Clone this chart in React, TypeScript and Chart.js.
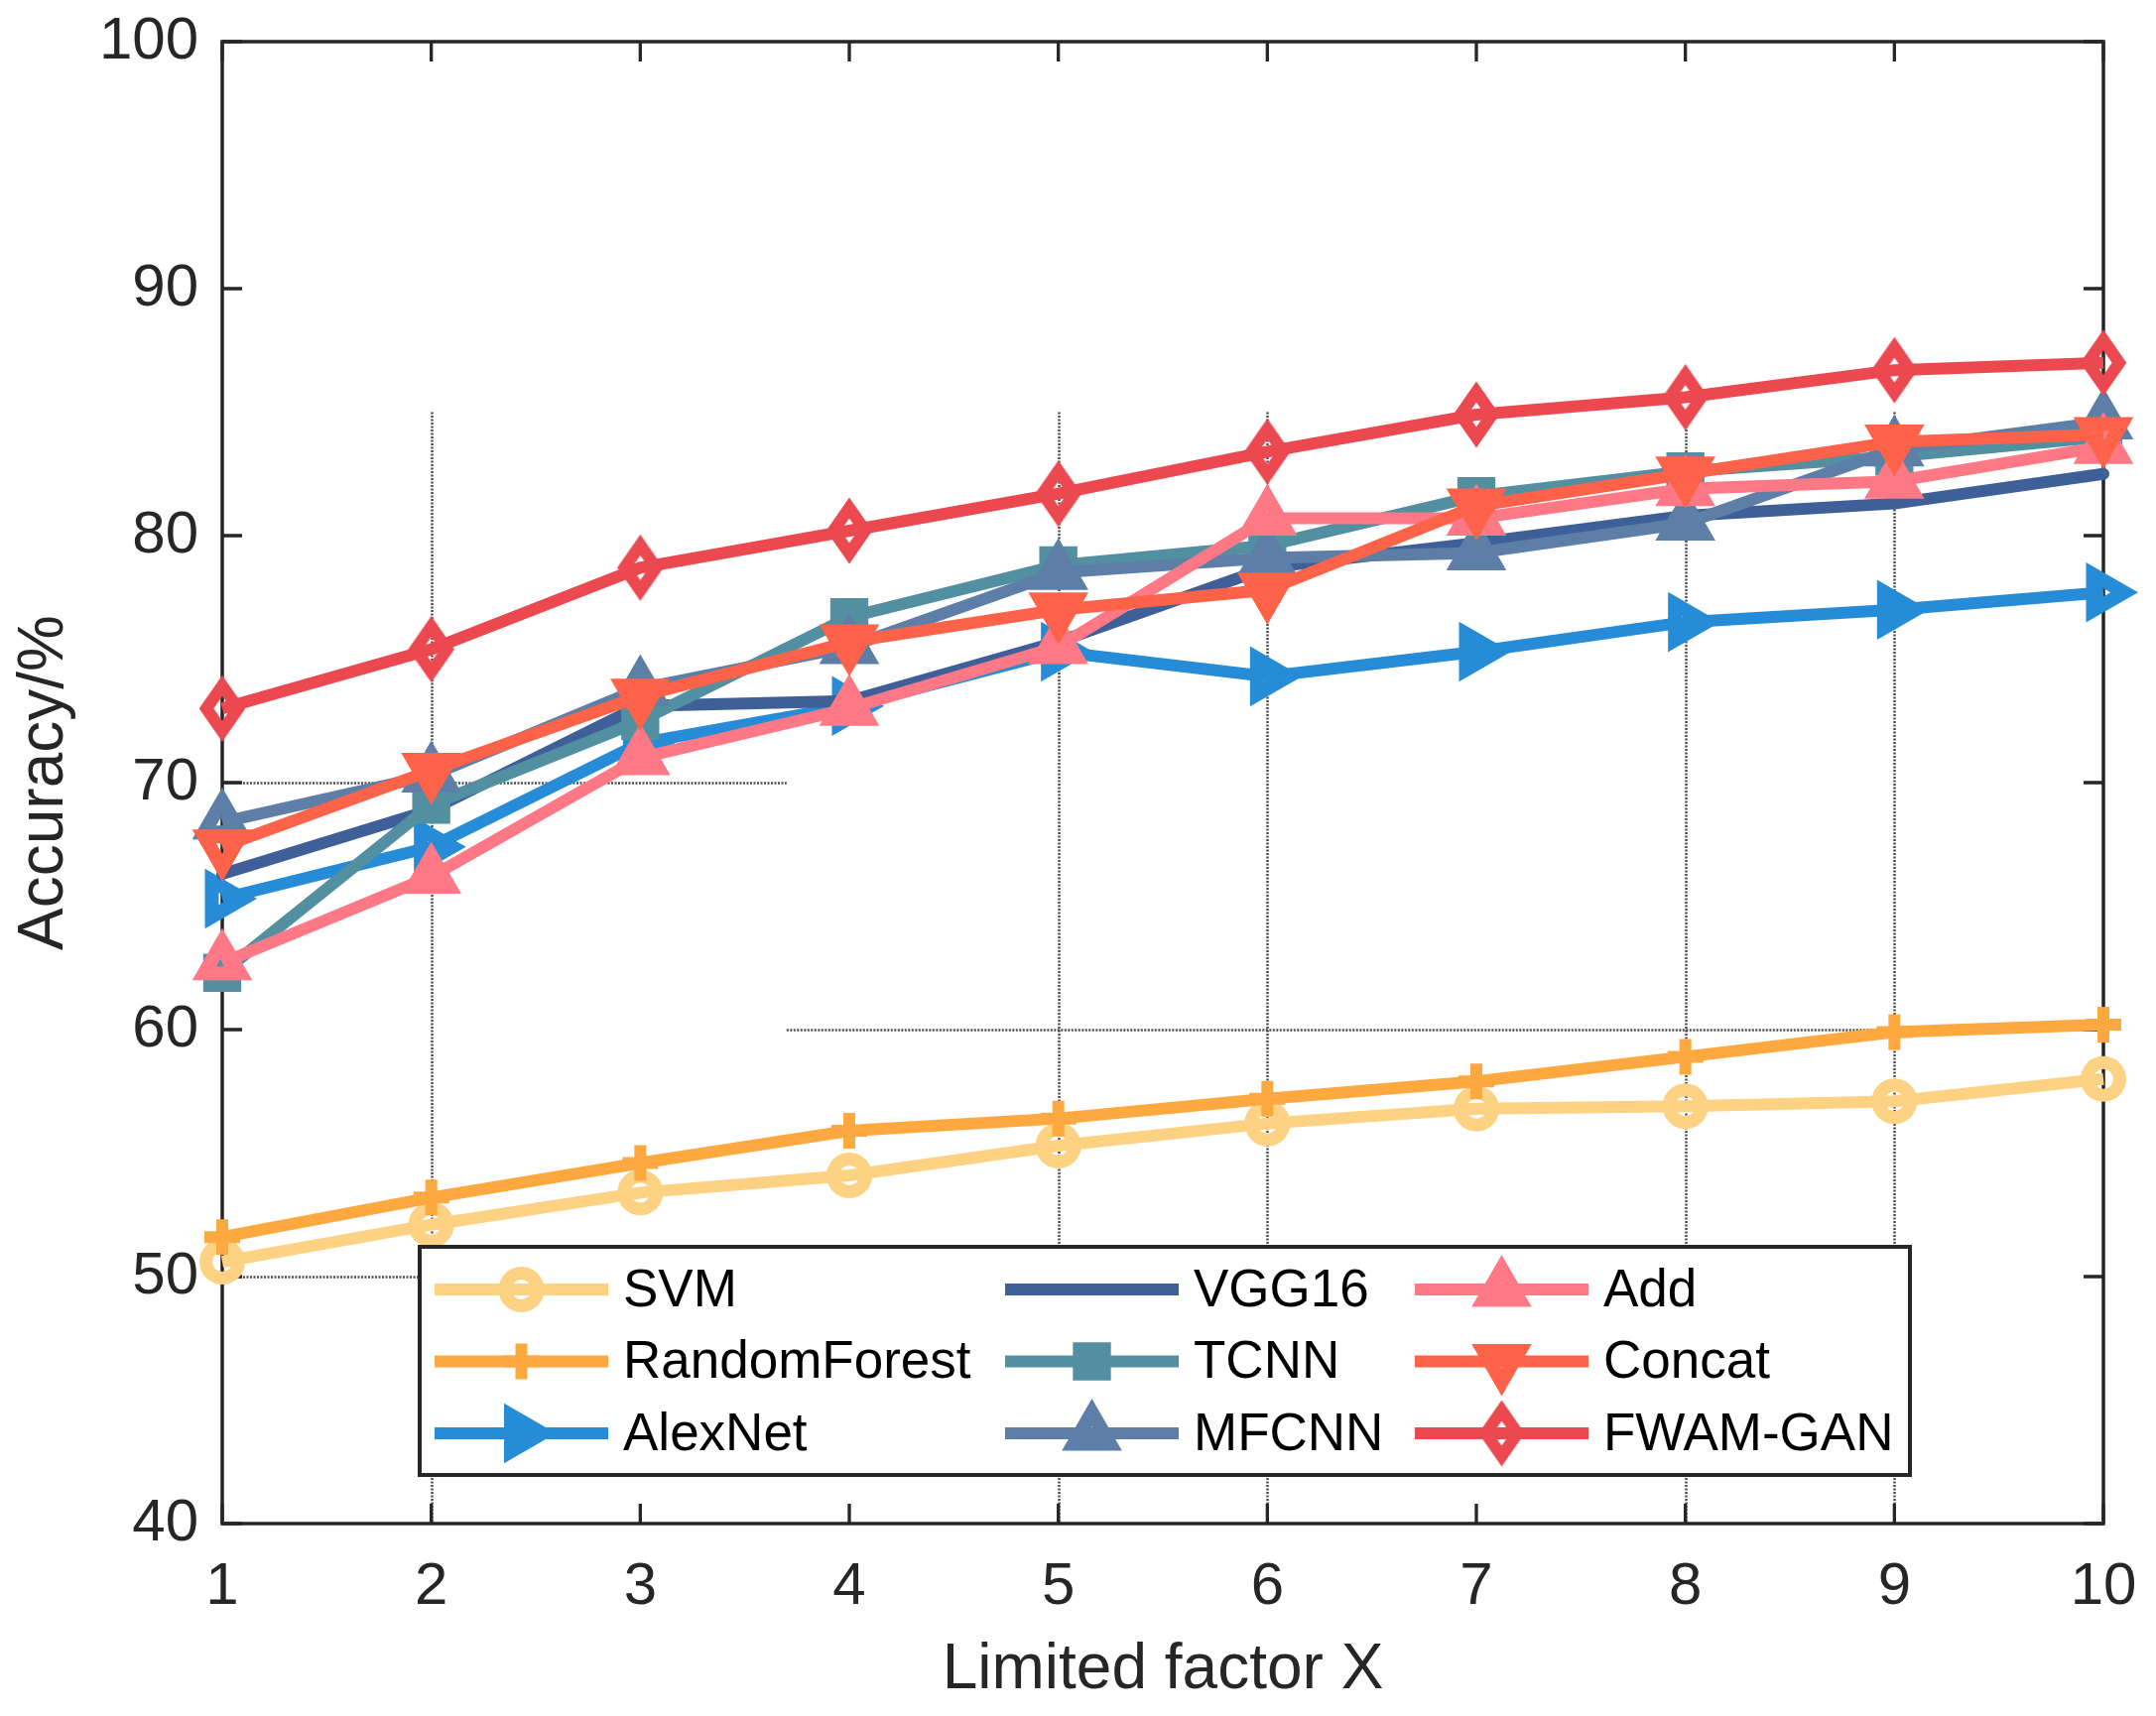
import { useEffect, useRef } from "react"
import { Chart, registerables } from "chart.js"
import { drawPoint } from "chart.js/helpers"

Chart.register(...registerables)

// x positions (limited factor X)
const xValues = [1, 2, 3, 4, 5, 6, 7, 8, 9, 10]

// accuracy values (%)
const svm = [50.6, 52.1, 53.4, 54.1, 55.3, 56.2, 56.8, 56.9, 57.1, 58.0]
const randomForest = [51.6, 53.2, 54.6, 55.9, 56.4, 57.2, 57.9, 58.9, 59.9, 60.2]
const alexNet = [65.3, 67.4, 71.6, 73.1, 75.3, 74.3, 75.3, 76.5, 77.0, 77.7]
const vgg16 = [66.3, 68.9, 73.1, 73.3, 75.7, 78.7, 79.7, 80.8, 81.3, 82.5]
const tcnn = [62.3, 69.1, 72.5, 76.7, 78.8, 79.6, 81.6, 82.6, 83.2, 84.0]
const mfcnn = [68.4, 70.3, 73.8, 75.5, 78.5, 79.1, 79.3, 80.5, 83.5, 84.6]
const add = [62.7, 66.2, 71.0, 73.0, 75.5, 80.7, 80.7, 81.9, 82.2, 83.6]
const concat = [67.4, 70.5, 73.5, 75.7, 77.0, 77.8, 81.2, 82.5, 83.8, 84.1]
const fwamGan = [73.0, 75.4, 78.7, 80.2, 81.7, 83.4, 84.9, 85.6, 86.7, 87.0]

const seriesNames = ["SVM", "RandomForest", "AlexNet", "VGG16", "TCNN", "MFCNN", "Add", "Concat", "FWAM-GAN"]
const seriesValues = [svm, randomForest, alexNet, vgg16, tcnn, mfcnn, add, concat, fwamGan]

const yTicks = { min: 40, max: 100, step: 10 }

const FONT = "'Liberation Sans', Arial, Helvetica, sans-serif"
const AXIS_COLOR = "#262626"
const LINE_WIDTH = 12

// tall hollow diamond like the matlab 'd' marker here
function diamondMarker(color: string) {
  const c = document.createElement("canvas")
  c.width = 60
  c.height = 80
  const g = c.getContext("2d")!
  g.strokeStyle = color
  g.lineWidth = 12
  g.lineJoin = "miter"
  g.beginPath()
  g.moveTo(30, 17)
  g.lineTo(46, 40)
  g.lineTo(30, 63)
  g.lineTo(14, 40)
  g.closePath()
  g.stroke()
  return c
}

type MarkerStyle = {
  color: string
  pointStyle: any
  radius: number
  border: number
  rotation?: number
  filled?: boolean
}

const styles: MarkerStyle[] = [
  { color: "#FDD283", pointStyle: "circle", radius: 16.5, border: 13 },
  { color: "#FDA940", pointStyle: "cross", radius: 18, border: 12 },
  { color: "#268CD7", pointStyle: "triangle", radius: 21, border: 14, rotation: 90 },
  { color: "#3F5F99", pointStyle: "circle", radius: 6, border: 0, filled: true },
  { color: "#528FA1", pointStyle: "rect", radius: 16.5, border: 15 },
  { color: "#5D7FA7", pointStyle: "triangle", radius: 21, border: 14 },
  { color: "#FF7886", pointStyle: "triangle", radius: 21, border: 14 },
  { color: "#FE6349", pointStyle: "triangle", radius: 21, border: 14, rotation: 180 },
  { color: "#EB4850", pointStyle: "diamond", radius: 30, border: 12 },
]

// faint partial grid lines left in the original figure (data units)
const partialVertical = [2, 5, 6, 8, 9]
const partialHorizontal = [
  { y: 70, from: 1, to: 3.7 },
  { y: 60, from: 3.7, to: 10 },
  { y: 50, from: 1, to: 3.7 },
]

const frameAndGrid = {
  id: "frameAndGrid",
  beforeDatasetsDraw(chart: any) {
    const { ctx, chartArea: a, scales } = chart
    const x = scales.x
    const y = scales.y
    ctx.save()
    // dotted partial grid
    ctx.strokeStyle = "rgba(45,45,45,0.85)"
    ctx.lineWidth = 2.5
    ctx.setLineDash([2, 1.5])
    partialVertical.forEach((v) => {
      const px = Math.round(x.getPixelForValue(v)) + 0.5
      ctx.beginPath()
      ctx.moveTo(px, y.getPixelForValue(85))
      ctx.lineTo(px, a.bottom)
      ctx.stroke()
    })
    partialHorizontal.forEach((h) => {
      const py = Math.round(y.getPixelForValue(h.y)) + 0.5
      ctx.beginPath()
      ctx.moveTo(x.getPixelForValue(h.from), py)
      ctx.lineTo(x.getPixelForValue(h.to), py)
      ctx.stroke()
    })
    ctx.setLineDash([])

    // box
    ctx.strokeStyle = AXIS_COLOR
    ctx.lineWidth = 3.5
    ctx.strokeRect(a.left, a.top, a.right - a.left, a.bottom - a.top)

    // inward ticks on all four sides
    const len = 20
    ctx.lineWidth = 3.3
    ctx.beginPath()
    x.ticks.forEach((_t: any, i: number) => {
      const px = x.getPixelForTick(i)
      ctx.moveTo(px, a.bottom)
      ctx.lineTo(px, a.bottom - len)
      ctx.moveTo(px, a.top)
      ctx.lineTo(px, a.top + len)
    })
    y.ticks.forEach((_t: any, i: number) => {
      const py = y.getPixelForTick(i)
      ctx.moveTo(a.left, py)
      ctx.lineTo(a.left + len, py)
      ctx.moveTo(a.right, py)
      ctx.lineTo(a.right - len, py)
    })
    ctx.stroke()
    ctx.restore()
  },
}

const boxLegend = {
  id: "boxLegend",
  afterDatasetsDraw(chart: any) {
    const { ctx, chartArea: a } = chart
    const left = a.left + 199
    const top = a.bottom - 279
    const w = 1502
    const h = 230
    const colOffsets = [15, 590, 1003]
    const lineLen = 175

    ctx.save()
    ctx.fillStyle = "#ffffff"
    ctx.fillRect(left, top, w, h)
    ctx.strokeStyle = AXIS_COLOR
    ctx.lineWidth = 4
    ctx.strokeRect(left, top, w, h)

    chart.data.datasets.forEach((ds: any, i: number) => {
      const col = Math.floor(i / 3)
      const row = i % 3
      const x0 = left + colOffsets[col]
      const yc = top + 43 + row * 72.5

      ctx.strokeStyle = ds.borderColor
      ctx.lineWidth = ds.borderWidth
      ctx.beginPath()
      ctx.moveTo(x0, yc)
      ctx.lineTo(x0 + lineLen, yc)
      ctx.stroke()

      ctx.fillStyle = ds.pointBackgroundColor
      ctx.strokeStyle = ds.pointBorderColor
      ctx.lineWidth = ds.pointBorderWidth
      drawPoint(
        ctx,
        {
          pointStyle: ds.pointStyle,
          radius: ds.pointRadius,
          borderWidth: ds.pointBorderWidth,
          rotation: ds.pointRotation,
        } as any,
        x0 + lineLen / 2,
        yc
      )

      ctx.fillStyle = "#000000"
      ctx.font = `53px ${FONT}`
      ctx.textAlign = "left"
      ctx.textBaseline = "middle"
      ctx.fillText(ds.label, x0 + lineLen + 15, yc + 2)
    })
    ctx.restore()
  },
}

export default function App() {
  const chartRef = useRef<HTMLCanvasElement>(null)
  const chartInstance = useRef<Chart | null>(null)

  useEffect(() => {
    document.body.style.margin = "0"
    if (!chartRef.current) return

    if (chartInstance.current) {
      chartInstance.current.destroy()
    }

    const ctx = chartRef.current.getContext("2d")
    if (!ctx) return

    const datasets = seriesNames.map((name, i) => {
      const s = styles[i]
      return {
        label: name,
        data: xValues.map((x, j) => ({ x, y: seriesValues[i][j] })),
        borderColor: s.color,
        backgroundColor: s.color,
        borderWidth: LINE_WIDTH,
        tension: 0,
        fill: false,
        pointStyle: s.pointStyle === "diamond" ? diamondMarker(s.color) : s.pointStyle,
        pointRadius: s.radius,
        pointBorderWidth: s.border,
        pointBorderColor: s.color,
        pointBackgroundColor: s.filled ? s.color : "rgba(0,0,0,0)",
        pointRotation: s.rotation || 0,
        clip: false as any,
        // later series sit on top, as in the original
        order: seriesNames.length - i,
      }
    })

    chartInstance.current = new Chart(ctx, {
      type: "line",
      data: { datasets },
      options: {
        responsive: false,
        devicePixelRatio: 1,
        animation: false,
        events: [],
        layout: {
          padding: { top: 37, right: 53, left: 0, bottom: 0 },
        },
        plugins: {
          legend: { display: false },
          tooltip: { enabled: false },
        },
        scales: {
          x: {
            type: "linear",
            min: 1,
            max: 10,
            afterFit: (scale: any) => {
              scale.height = 194
              scale.paddingLeft = 0
              scale.paddingRight = 0
            },
            ticks: {
              stepSize: 1,
              color: AXIS_COLOR,
              padding: 28,
              font: { family: FONT, size: 60 },
            },
            grid: { display: false, drawTicks: false },
            border: { display: false },
            title: {
              display: true,
              text: "Limited factor X",
              color: AXIS_COLOR,
              padding: { top: 0, bottom: 7 },
              font: { family: FONT, size: 64 },
            },
          },
          y: {
            min: yTicks.min,
            max: yTicks.max,
            afterFit: (scale: any) => {
              scale.width = 224
              scale.paddingTop = 0
              scale.paddingBottom = 0
            },
            ticks: {
              stepSize: yTicks.step,
              color: AXIS_COLOR,
              padding: 24,
              font: { family: FONT, size: 60 },
            },
            grid: { display: false, drawTicks: false },
            border: { display: false },
            title: {
              display: true,
              text: "Accuracy/%",
              color: AXIS_COLOR,
              padding: { top: 7, bottom: 0 },
              font: { family: FONT, size: 64 },
            },
          },
        },
      },
      plugins: [frameAndGrid, boxLegend],
    })

    return () => {
      if (chartInstance.current) {
        chartInstance.current.destroy()
        chartInstance.current = null
      }
    }
  }, [])

  return (
    <div style={{ width: 2173, height: 1730, background: "#ffffff" }}>
      <canvas ref={chartRef} width={2173} height={1730}></canvas>
    </div>
  )
}
